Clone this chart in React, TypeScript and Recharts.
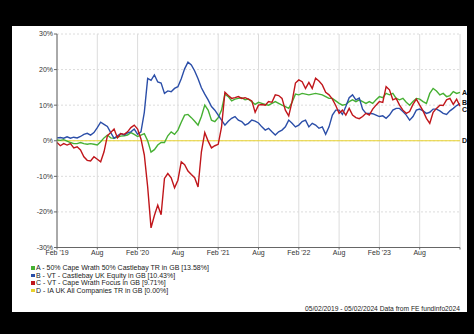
import React from 'react';
import { LineChart, Line, XAxis, YAxis, CartesianGrid } from 'recharts';

// Half-monthly readings from 05/02/2019 to 05/02/2024 (cumulative % return)
const SERIES_A = [
  0.2, 0.1, 0.3, -0.1, -0.5, -0.8, -0.8, -0.5, -0.8, -1.0, -0.8, -1.0, -1.2, -0.3, 0.8, 1.6,
  0.8, 0.7, 1.0, 1.3, 1.4, 1.6, 2.3, 1.8, 1.2, 1.6, 2.0, 0.0, -3.2, -2.5, -1.2, -0.5,
  -0.5, 1.4, 2.5, 1.8, 3.0, 5.2, 7.2, 7.4, 6.5, 5.5, 4.4, 6.8, 10.0, 8.6, 5.8, 5.4,
  6.5, 8.6, 13.1, 12.4, 11.2, 11.7, 11.9, 12.1, 11.5, 11.7, 11.0, 10.2, 10.8, 10.5, 10.2, 10.0,
  10.5, 11.0, 10.5, 10.0, 9.6, 9.1, 10.8, 13.1, 12.9, 13.3, 13.1, 12.9, 13.1, 13.3, 13.1, 12.9,
  12.4, 11.9, 11.9, 11.2, 10.5, 10.0, 10.2, 11.0, 11.5, 11.0, 11.5, 11.0, 10.5, 11.0, 10.5, 11.5,
  12.4, 12.1, 13.3, 12.9, 13.3, 11.9, 11.5, 11.9, 10.8, 10.0, 11.0, 11.9, 11.7, 11.0, 10.5, 13.3,
  14.7, 14.0, 12.9, 13.3, 12.4, 12.7, 13.8, 13.3, 13.58,
];
const SERIES_B = [
  0.8, 0.9, 0.7, 1.1, 0.7, 1.0, 0.8, 1.2, 1.8, 2.1, 1.6, 2.3, 3.7, 5.2, 4.6, 4.0,
  2.3, 0.7, 1.4, 2.0, 1.6, 2.2, 2.5, 3.3, 1.8, 2.5, 8.0, 17.5, 17.0, 18.5, 16.5, 16.2,
  13.3, 14.0, 13.8, 14.7, 15.2, 17.4, 20.2, 22.1, 21.3, 19.6, 17.4, 14.9, 13.1, 11.5, 9.6, 8.6,
  7.2, 5.8, 4.4, 5.5, 6.3, 6.8, 5.8, 5.4, 4.4, 4.9, 5.8, 5.5, 5.0, 3.9, 3.0, 3.5,
  2.5, 1.6, 2.5, 3.0, 3.9, 5.8, 4.9, 3.9, 4.4, 5.4, 5.8, 3.9, 4.9, 4.4, 3.5, 3.9,
  1.8, 3.9, 7.2, 8.6, 8.6, 7.4, 9.6, 12.1, 12.9, 11.5, 12.0, 8.9, 7.7, 7.7, 7.6, 7.2,
  6.8, 7.0, 6.3, 7.2, 8.6, 9.1, 9.1, 8.2, 7.2, 5.8, 6.8, 8.6, 8.9, 8.4, 7.7, 8.0,
  8.9, 8.9, 8.4, 7.7, 7.4, 8.4, 9.1, 9.9, 10.43,
];
const SERIES_C = [
  -0.5, -1.4, -0.8, -1.2, -0.8, -2.0, -1.7, -2.6, -4.5, -5.5, -5.7, -4.5, -5.2, -5.9, -3.1, 1.4,
  2.3, 3.3, 0.8, 2.0, 1.8, 2.5, 3.7, 4.4, 3.3, 0.5, -4.0, -13.0, -24.5, -21.0, -18.1, -20.8,
  -10.6, -9.2, -10.4, -13.2, -11.1, -5.9, -6.7, -8.5, -9.5, -10.4, -13.0, -3.1, 2.3, -0.1, -2.0, -1.4,
  -1.0, 3.9, 13.6, 12.7, 11.9, 12.1, 12.4, 11.9, 12.1, 11.7, 11.2, 8.0, 10.0, 10.2, 10.0, 11.0,
  10.8, 12.9, 12.7, 11.9, 8.6, 7.0, 11.0, 16.2, 17.1, 16.6, 14.7, 16.4, 14.7, 17.6, 16.8, 15.7,
  13.6, 12.9, 11.7, 9.9, 7.7, 8.6, 7.2, 9.1, 7.2, 6.5, 6.2, 6.8, 7.7, 7.2, 8.9, 10.0,
  11.0, 10.8, 15.2, 14.3, 11.5, 11.9, 10.0, 8.6, 7.7, 8.2, 10.2, 11.7, 10.0, 8.4, 6.3, 4.9,
  8.0, 9.1, 10.0, 9.9, 11.5, 11.9, 10.2, 11.7, 9.71,
];
const D_MONTHS = [0, 60];
const D_VALUES = [0, 0];

const SERIES_NAMES = [
  'A - 50% Cape Wrath 50% Castlebay TR in GB [13.58%]',
  'B - VT - Castlebay UK Equity in GB [10.43%]',
  'C - VT - Cape Wrath Focus in GB [9.71%]',
  'D - IA UK All Companies TR in GB [0.00%]',
];
const SERIES_KEYS = ['A', 'B', 'C', 'D'];
const COLORS = ['#46b033', '#2b4ea8', '#c0161b', '#e8d22c'];
const LABEL_DY = [0, -1, 3, 0];

const X_TICKS = [0, 6, 12, 18, 24, 30, 36, 42, 48, 54, 60];
const X_LABELS = ["Feb '19", 'Aug', "Feb '20", 'Aug', "Feb '21", 'Aug', "Feb '22", 'Aug', "Feb '23", 'Aug', ''];
const Y_TICKS = [-30, -20, -10, 0, 10, 20, 30];
const FOOTER = '05/02/2019 - 05/02/2024 Data from FE fundinfo2024';

const rows = SERIES_A.map((a, i) => ({ m: i * 0.5, A: a, B: SERIES_B[i], C: SERIES_C[i] }));
const dRows = D_MONTHS.map((m, i) => ({ m, D: D_VALUES[i] }));

const FONT = '"Liberation Sans", Arial, sans-serif';

const endLabel = (idx: number, lastIndex: number) => (props: any) => {
  if (props.index !== lastIndex) return null;
  return (
    <text
      x={props.x + 2}
      y={props.y + LABEL_DY[idx]}
      dy="0.35em"
      fontSize={7}
      fontWeight="bold"
      fontFamily={FONT}
      fill="#111"
    >
      {SERIES_KEYS[idx]}
    </text>
  );
};

export default function App() {
  return (
    <div style={{ position: 'fixed', left: 0, top: 0, width: 474, height: 334, background: '#000' }}>
      <div
        style={{
          position: 'absolute',
          left: 12,
          top: 26,
          width: 455,
          height: 286,
          background: '#fff',
          fontFamily: FONT,
        }}
      >
        <LineChart
          width={455}
          height={286}
          data={rows}
          margin={{ top: 8, right: 7, left: 0, bottom: 48.5 }}
          style={{ overflow: 'visible' }}
        >
          <CartesianGrid vertical={false} stroke="#dcdcdc" strokeDasharray="2 2" />
          <CartesianGrid horizontal={false} stroke="#dcdcdc" />
          <XAxis
            type="number"
            dataKey="m"
            domain={[0, 60]}
            ticks={X_TICKS}
            interval={0}
            allowDuplicatedCategory={false}
            tickFormatter={(v: number) => X_LABELS[X_TICKS.indexOf(v)] ?? ''}
            tick={{ fontSize: 7, fill: '#333', fontFamily: FONT }}
            tickSize={2}
            tickMargin={1}
            stroke="#666"
            height={16}
          />
          <YAxis
            type="number"
            domain={[-30, 30]}
            ticks={Y_TICKS}
            interval={0}
            tickFormatter={(v: number) => `${v}%`}
            tick={{ fontSize: 7, fill: '#333', fontFamily: FONT }}
            tickSize={3}
            tickMargin={1}
            stroke="#666"
            width={45}
          />
          <Line
            data={dRows}
            dataKey="D"
            stroke={COLORS[3]}
            strokeWidth={1.2}
            dot={false}
            isAnimationActive={false}
            label={endLabel(3, dRows.length - 1)}
          />
          <Line
            dataKey="A"
            stroke={COLORS[0]}
            strokeWidth={1.4}
            dot={false}
            isAnimationActive={false}
            label={endLabel(0, rows.length - 1)}
          />
          <Line
            dataKey="B"
            stroke={COLORS[1]}
            strokeWidth={1.4}
            dot={false}
            isAnimationActive={false}
            label={endLabel(1, rows.length - 1)}
          />
          <Line
            dataKey="C"
            stroke={COLORS[2]}
            strokeWidth={1.4}
            dot={false}
            isAnimationActive={false}
            label={endLabel(2, rows.length - 1)}
          />
        </LineChart>
        <div style={{ position: 'absolute', left: 19, top: 238 }}>
          {SERIES_NAMES.map((name, i) => (
            <div
              key={name}
              style={{ display: 'flex', alignItems: 'center', height: 7.6, fontSize: 7, color: '#222', whiteSpace: 'nowrap' }}
            >
              <span style={{ display: 'inline-block', width: 3.5, height: 3.5, background: COLORS[i], marginRight: 1.5 }} />
              <span>{name}</span>
            </div>
          ))}
        </div>
        <div
          style={{
            position: 'absolute',
            right: 7,
            top: 279,
            fontSize: 6.7,
            color: '#222',
            whiteSpace: 'nowrap',
            lineHeight: '8px',
          }}
        >
          {FOOTER}
        </div>
      </div>
    </div>
  );
}
